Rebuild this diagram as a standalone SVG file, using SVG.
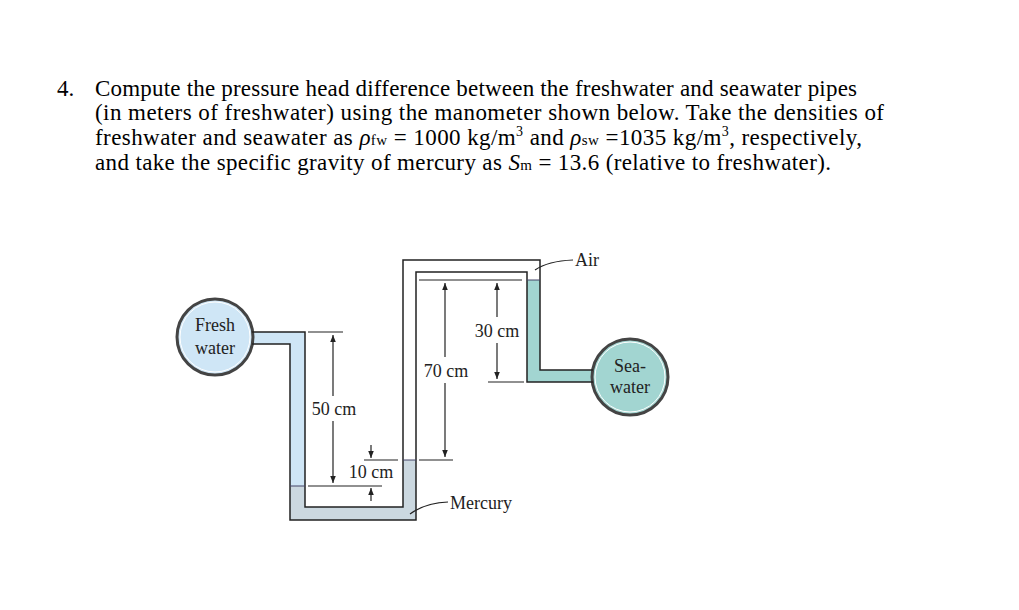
<svg xmlns="http://www.w3.org/2000/svg" width="1019" height="610" viewBox="0 0 1019 610">
<style>
.t{font-family:"Liberation Serif","Times New Roman",serif;font-size:23px;fill:#000}
.l{font-family:"Liberation Serif","Times New Roman",serif;font-size:18px;fill:#222}
.w{fill:none;stroke:#222;stroke-width:1.5}
.d{fill:none;stroke:#222;stroke-width:1.2}
</style>
<defs>
<marker id="a" viewBox="0 0 10 10" refX="10" refY="5" markerWidth="6" markerHeight="7" orient="auto-start-reverse"><path d="M0,1 L10,5 L0,9 z" fill="#222"/></marker>
</defs>
<rect width="1019" height="610" fill="#fff"/>
<g id="question">
<text class="t" x="57" y="96">4.</text>
<text class="t" x="95" y="96" textLength="762">Compute the pressure head difference between the freshwater and seawater pipes</text>
<text class="t" x="95" y="120" textLength="789">(in meters of freshwater) using the manometer shown below. Take the densities of</text>
<text class="t" x="95" y="145" textLength="767">freshwater and seawater as <tspan font-style="italic">ρ</tspan><tspan font-size="15">fw</tspan> = 1000 kg/m<tspan font-size="14" dy="-9">3</tspan><tspan dy="9"> and </tspan><tspan font-style="italic">ρ</tspan><tspan font-size="15">sw</tspan> =1035 kg/m<tspan font-size="14" dy="-9">3</tspan><tspan dy="9">, respectively,</tspan></text>
<text class="t" x="95" y="170" textLength="736">and take the specific gravity of mercury as <tspan font-style="italic">S</tspan><tspan font-size="15">m</tspan> = 13.6 (relative to freshwater).</text>
</g>
<g id="fills" stroke="none">
<path d="M250,332 H305 V486 H290 V344 H250 Z" fill="#cfe6f6"/>
<path d="M290,486 H305 V507 H403 V460 H416 V520 H290 Z" fill="#cbd8e0"/>
<path d="M527,280 H540 V370 H595 V382 H527 Z" fill="#a2d5d1"/>
</g>
<g id="fresh-water">
<circle cx="215" cy="337" r="38" fill="#cfe6f6" stroke="#444" stroke-width="3"/>
<circle cx="215" cy="337" r="35" fill="none" stroke="#fff" stroke-width="1"/>
<text class="l" x="215" y="331" text-anchor="middle">Fresh</text>
<text class="l" x="215" y="354" text-anchor="middle">water</text>
</g>
<g id="sea-water">
<circle cx="630" cy="377" r="38" fill="#a2d5d1" stroke="#444" stroke-width="3"/>
<circle cx="630" cy="377" r="35" fill="none" stroke="#fff" stroke-width="1"/>
<text class="l" x="630" y="372" text-anchor="middle">Sea-</text>
<text class="l" x="630" y="393" text-anchor="middle">water</text>
</g>
<g id="tube">
<path class="w" d="M252,332 H305 V507 H403 V260 H540 V370 H593"/>
<path class="w" d="M252,344 H290 V520 H416 V272 H527 V382 H593"/>
<line x1="290" y1="486" x2="305" y2="486" stroke="#446" stroke-width="1"/>
<line x1="403" y1="460" x2="416" y2="460" stroke="#446" stroke-width="1"/>
<line x1="527" y1="280" x2="540" y2="280" stroke="#446" stroke-width="1"/>
</g>
<g id="connectors">
<line class="d" x1="308" y1="332" x2="343" y2="332"/>
<line class="d" x1="308" y1="486" x2="382" y2="486"/>
<line class="d" x1="333" y1="335" x2="333" y2="396" marker-start="url(#a)"/>
<line class="d" x1="333" y1="421" x2="333" y2="483" marker-end="url(#a)"/>
<line class="d" x1="364" y1="460" x2="398" y2="460"/>
<line class="d" x1="371" y1="445" x2="371" y2="458" marker-end="url(#a)"/>
<line class="d" x1="371" y1="501" x2="371" y2="488" marker-end="url(#a)"/>
<line class="d" x1="419" y1="280" x2="522" y2="280"/>
<line class="d" x1="419" y1="460" x2="453" y2="460"/>
<line class="d" x1="445" y1="283" x2="445" y2="357" marker-start="url(#a)"/>
<line class="d" x1="445" y1="383" x2="445" y2="457" marker-end="url(#a)"/>
<line class="d" x1="488" y1="382" x2="524" y2="382"/>
<line class="d" x1="497" y1="283" x2="497" y2="317" marker-start="url(#a)"/>
<line class="d" x1="497" y1="343" x2="497" y2="379" marker-end="url(#a)"/>
<path class="d" d="M535,270 Q548,261 573,260"/>
<path class="d" d="M410,514 Q425,503 448,502"/>
</g>
<g id="labels">
<text class="l" x="334" y="415" text-anchor="middle">50 cm</text>
<text class="l" x="371" y="478" text-anchor="middle">10 cm</text>
<text class="l" x="446" y="377" text-anchor="middle">70 cm</text>
<text class="l" x="497" y="337" text-anchor="middle">30 cm</text>
<text class="l" x="575" y="266">Air</text>
<text class="l" x="450" y="509">Mercury</text>
</g>
</svg>
